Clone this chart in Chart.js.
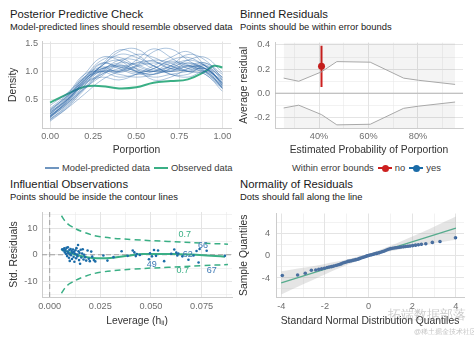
<!DOCTYPE html>
<html>
<head>
<meta charset="utf-8">
<script src="https://cdn.jsdelivr.net/npm/chart.js@4.4.1/dist/chart.umd.min.js"></script>
<style>
  body { margin: 0; width: 474px; height: 338px; position: relative; overflow: hidden; background: #fff;
         font-family: "Liberation Sans", Arial, sans-serif; }
  canvas { position: absolute; }
  .ttl { position: absolute; font-size: 11.3px; line-height: 14px; color: #1a1a1a; white-space: nowrap; }
  .sub { position: absolute; font-size: 9.4px; line-height: 12px; color: #1a1a1a; white-space: nowrap; }
  .legend { position: absolute; display: flex; align-items: center; font-size: 9.4px; line-height: 12px; color: #3a3a3a; white-space: nowrap; }
  .legend-item { display: flex; align-items: center; margin-right: 4px; }
  .legend-line { display: inline-block; width: 14px; height: 2px; margin-right: 3px; position: relative; }
  .legend-dot { position: absolute; left: 4px; top: -2.5px; width: 7px; height: 7px; border-radius: 50%; }
  .wm { position: absolute; white-space: nowrap; }
</style>
</head>
<body>
<div class="ttl" style="left:10px;top:7px">Posterior Predictive Check</div>
<div class="sub" style="left:10px;top:20.7px">Model-predicted lines should resemble observed data</div>
<div class="ttl" style="left:240px;top:7px">Binned Residuals</div>
<div class="sub" style="left:240px;top:20.7px">Points should be within error bounds</div>
<div class="ttl" style="left:10px;top:177px">Influential Observations</div>
<div class="sub" style="left:10px;top:191.3px">Points should be inside the contour lines</div>
<div class="ttl" style="left:240px;top:177px">Normality of Residuals</div>
<div class="sub" style="left:240px;top:191.3px">Dots should fall along the line</div>

<canvas id="ppcChart" width="236" height="128" style="left:0;top:32px"></canvas>
<canvas id="binnedChart" width="237" height="128" style="left:237px;top:32px"></canvas>
<canvas id="influenceChart" width="236" height="126" style="left:0;top:202px"></canvas>
<canvas id="qqChart" width="237" height="126" style="left:237px;top:202px"></canvas>

<div class="legend" id="ppcLegend" style="left:45px;top:162px"></div>
<div class="legend" id="binnedLegend" style="left:292px;top:162px"></div>

<div class="wm" style="left:388px;top:306px;font-size:13px;color:rgba(140,140,140,0.45)">拓端数据部落</div>
<div class="wm" style="left:414px;top:327px;font-size:7px;color:#c4c4c4">@稀土掘金技术社区</div>

<script>
// ---- data ----
const GREEN = '#3aaf85';
const BLUE = '#1b6ca8';
const RED = '#cd201f';

// Posterior predictive check
const ppcX = [0, 0.1, 0.2, 0.3, 0.4, 0.5, 0.6, 0.7, 0.8, 0.9, 1.0];
const ppcSims = [
    [0.22, 0.45, 0.80, 1.05, 1.10, 1.00, 0.95, 1.05, 1.10, 1.00, 0.75],
    [0.30, 0.55, 0.90, 1.20, 1.25, 1.10, 1.00, 1.00, 1.15, 1.05, 0.80],
    [0.15, 0.40, 0.70, 0.95, 1.05, 1.15, 1.10, 0.95, 0.95, 1.10, 0.85],
    [0.25, 0.50, 0.85, 1.10, 1.35, 1.40, 1.20, 1.05, 1.10, 1.05, 0.70],
    [0.35, 0.60, 0.95, 1.00, 0.90, 0.95, 1.05, 1.20, 1.25, 1.10, 0.90],
    [0.20, 0.42, 0.75, 1.10, 1.20, 1.05, 0.85, 0.90, 1.05, 1.15, 0.95],
    [0.12, 0.35, 0.60, 0.85, 1.00, 1.10, 1.20, 1.15, 1.00, 0.95, 0.65],
    [0.28, 0.52, 0.88, 1.15, 1.05, 0.95, 1.00, 1.10, 1.20, 1.10, 0.78],
    [0.18, 0.48, 0.80, 0.95, 1.15, 1.30, 1.25, 1.10, 1.00, 1.05, 0.82],
    [0.40, 0.62, 0.90, 1.05, 1.00, 1.10, 1.35, 1.40, 1.20, 1.00, 0.72],
    [0.24, 0.50, 0.82, 1.00, 0.95, 0.90, 0.95, 1.10, 1.30, 1.20, 0.88],
    [0.30, 0.58, 0.95, 1.25, 1.20, 1.00, 0.90, 0.95, 1.00, 1.05, 0.80],
    [0.16, 0.38, 0.72, 1.00, 1.20, 1.20, 1.05, 1.00, 1.10, 1.15, 0.90],
    [0.22, 0.46, 0.78, 0.90, 0.85, 0.95, 1.10, 1.25, 1.35, 1.10, 0.75],
    [0.33, 0.56, 0.85, 1.10, 1.30, 1.25, 1.10, 0.95, 0.90, 1.00, 0.85],
    [0.20, 0.44, 0.70, 0.92, 1.10, 1.05, 1.00, 1.15, 1.10, 0.95, 0.70],
    [0.26, 0.54, 0.90, 1.08, 1.00, 1.20, 1.40, 1.25, 1.05, 1.05, 0.80],
    [0.14, 0.36, 0.68, 0.98, 1.12, 1.00, 0.95, 1.05, 1.20, 1.25, 0.98],
    [0.28, 0.50, 0.80, 1.12, 1.38, 1.30, 1.10, 1.00, 1.05, 1.10, 0.76],
    [0.20, 0.47, 0.83, 1.02, 0.98, 1.08, 1.15, 1.10, 1.00, 1.00, 0.70],
    [0.25, 0.52, 0.86, 1.05, 1.08, 1.02, 1.00, 1.02, 1.08, 1.06, 0.78],
    [0.18, 0.43, 0.76, 1.03, 1.15, 1.12, 1.02, 1.08, 1.15, 1.02, 0.74],
    [0.32, 0.57, 0.88, 1.00, 1.02, 1.15, 1.18, 1.05, 1.02, 1.12, 0.86],
    [0.21, 0.49, 0.84, 1.14, 1.08, 0.98, 1.05, 1.18, 1.12, 0.98, 0.72]
];
const observedX = [0, 0.1, 0.2, 0.3, 0.4, 0.5, 0.6, 0.7, 0.8, 0.9, 0.95, 1.0];
const observedY = [0.45, 0.60, 0.73, 0.74, 0.70, 0.72, 0.80, 0.83, 0.86, 1.00, 1.10, 1.07];
const ppcXMajor = [0, 0.25, 0.5, 0.75, 1.0];
const ppcXMinor = [0.125, 0.375, 0.625, 0.875];
const ppcYMajor = [0.5, 1.0, 1.5];
const ppcYMinor = [0.25, 0.75, 1.25];

// Binned residuals
const boundX = [0.257, 0.318, 0.41, 0.472, 0.607, 0.742, 0.803, 0.95];
const boundUpper = [0.125, 0.099, 0.177, 0.262, 0.257, 0.125, 0.107, 0.073];
const boundLower = [-0.122, -0.099, -0.177, -0.262, -0.257, -0.125, -0.107, -0.073];
const binX = [0.41];
const binY = [0.224];
const binLow = [0.052];
const binHigh = [0.393];
const binXMajor = [0.4, 0.6, 0.8];
const binXMinor = [0.3, 0.5, 0.7, 0.9];
const binYMajor = [-0.2, 0, 0.2, 0.4];
const binYMinor = [-0.1, 0.1, 0.3];

// Influential observations
const leverage = [0.0062, 0.0068, 0.0072, 0.0075, 0.0078, 0.0081, 0.0083, 0.0086, 0.0088, 0.009,
    0.0092, 0.0095, 0.0097, 0.0099, 0.0101, 0.0103, 0.0105, 0.0108, 0.011, 0.0112,
    0.0115, 0.0118, 0.012, 0.0122, 0.0125, 0.0127, 0.013, 0.0132, 0.0135, 0.0137,
    0.014, 0.0142, 0.0145, 0.0147, 0.015, 0.0153, 0.0156, 0.016, 0.0163, 0.0167,
    0.017, 0.0175, 0.018, 0.0187, 0.0193, 0.0198, 0.0205, 0.021, 0.0218, 0.0225,
    0.0265, 0.0285, 0.0315, 0.0355, 0.0385, 0.041, 0.0418, 0.0425, 0.043, 0.0445,
    0.049, 0.0495, 0.0505, 0.0515, 0.0525, 0.0535, 0.0565, 0.06, 0.0615, 0.0625,
    0.063, 0.0635, 0.0655, 0.0685, 0.071, 0.0725, 0.0735, 0.074, 0.0775, 0.0865];
const stdResid = [2.1, 1.6, 2.4, 0.9, 1.9, 0.3, 2.6, -0.5, 1.2, 2.8,
    0.6, -1.1, 1.8, -2.3, 0.2, 2.2, -0.2, 1.4, -1.6, 0.8,
    2.0, -0.8, 1.1, -2.6, 0.4, 1.7, -1.3, 2.5, 0.1, -0.6,
    3.7, 1.3, -2.0, 0.7, -3.4, 1.9, -1.0, 0.5, 2.1, -1.8,
    0.0, -0.9, -2.2, 1.6, -1.5, -2.4, 1.2, -0.7, -2.0, -2.5,
    -0.3, -2.2, -0.9, 1.3, -0.4, 1.6, 0.9, -0.5, 0.3, -0.1,
    -1.7, 0.6, -0.6, 1.8, -0.4, 1.6, -2.4, 0.4, 2.0, 0.8,
    -0.3, 0.5, -0.6, -1.9, -0.3, 1.4, -2.9, 2.2, 1.5, -0.4];
const smoothX = [0.0058, 0.01, 0.015, 0.021, 0.03, 0.038, 0.046, 0.061, 0.074, 0.0865];
const smoothY = [2.0, 0.8, -0.4, -1.2, -1.2, -0.4, 0.25, 0.25, -0.1, -0.7];
const contourX = [0.0058, 0.0075, 0.01, 0.0165, 0.025, 0.0415, 0.0585, 0.075, 0.088];
const contourUpper = [14.7, 12.8, 11.0, 8.6, 6.8, 5.7, 5.0, 4.4, 4.0];
const contourLower = [-14.5, -12.6, -10.8, -8.4, -6.6, -5.4, -4.7, -4.1, -3.7];
const infLabelX = [0.0757, 0.0682, 0.0504, 0.0800, 0.0667, 0.0657];
const infLabelY = [3.5, 0.0, -3.6, -5.8, 7.5, -6.1];
const infLabels = ['66', '62', '49', '67', '0.7', '0.7'];
const infXMajor = [0, 0.025, 0.05, 0.075];
const infXMinor = [0.0125, 0.0375, 0.0625, 0.0875];
const infYMajor = [-10, 0, 10];
const infYMinor = [-15, -5, 5, 15];

// Normality of residuals
const qqTheo = [-3.95, -3.25, -2.9, -2.62, -2.42, -2.28, -2.15, -2.02, -1.9, -1.8,
    -1.7, -1.6, -1.5, -1.42, -1.34, -1.26, -1.18, -1.1, -1.02, -0.95,
    -0.88, -0.8, -0.72, -0.65, -0.58, -0.5, -0.43, -0.36, -0.28, -0.21,
    -0.14, -0.07, 0, 0.07, 0.14, 0.21, 0.28, 0.36, 0.43, 0.5,
    0.58, 0.65, 0.72, 0.8, 0.88, 0.95, 1.02, 1.1, 1.18, 1.26,
    1.34, 1.42, 1.5, 1.6, 1.7, 1.8, 1.9, 2.02, 2.15, 2.28,
    2.42, 2.62, 2.92, 3.27, 3.98];
const qqSample = [-3.55, -3.45, -3.15, -2.6, -2.55, -2.45, -2.35, -2.25, -2.1, -2.0,
    -1.95, -1.85, -1.75, -1.65, -1.55, -1.45, -1.3, -1.2, -1.1, -1.0,
    -0.95, -0.9, -0.82, -0.75, -0.68, -0.6, -0.5, -0.4, -0.3, -0.2,
    -0.1, 0.0, 0.08, 0.15, 0.22, 0.3, 0.38, 0.45, 0.52, 0.6,
    0.7, 0.8, 0.9, 1.02, 1.15, 1.25, 1.32, 1.38, 1.43, 1.48,
    1.52, 1.56, 1.6, 1.65, 1.7, 1.75, 1.8, 1.87, 1.95, 2.02,
    2.1, 2.2, 2.45, 2.6, 3.3];
const qqLineX = [-4, 4];
const qqLineY = [-4.88, 5.04];
const bandX = [-4, -3, -2, -1, 0, 1, 2, 3, 4];
const bandLow = [-6.98, -5.14, -3.35, -1.66, -0.22, 0.82, 1.61, 2.3, 2.94];
const bandHigh = [-2.78, -2.14, -1.45, -0.66, 0.38, 1.82, 3.51, 5.3, 7.14];
const qqXMajor = [-4, -2, 0, 2, 4];
const qqXMinor = [-3, -1, 1, 3];
const qqYMajor = [-4, 0, 4];
const qqYMinor = [-6, -2, 2, 6];

// ---- helpers ----
Chart.defaults.font.family = '"Liberation Sans", Arial, sans-serif';
Chart.defaults.animation = false;

const zip = (xs, ys) => xs.map((x, i) => ({ x: x, y: ys[i] }));

// one ggplot-like axis: fixed size, major + minor grid, labels on majors only
function makeAxis(pos, min, max, majors, minors, fmt, title, size, titlePad, labelPad) {
    return {
        type: 'linear',
        position: pos,
        min: min,
        max: max,
        afterBuildTicks: axis => {
            axis.ticks = majors.concat(minors).sort((a, b) => a - b).map(v => ({ value: v }));
        },
        afterFit: scale => {
            if (pos === 'left') scale.width = size; else scale.height = size;
        },
        grid: {
            color: '#e4e4e4',
            lineWidth: ctx => (ctx.tick && majors.includes(ctx.tick.value)) ? 1 : 0.5,
            drawTicks: false
        },
        border: { display: true, color: '#cccccc', width: 1 },
        ticks: {
            autoSkip: false,
            maxRotation: 0,
            padding: labelPad,
            color: '#6e6e6e',
            font: { size: 9.2 },
            callback: v => majors.includes(v) ? fmt(v) : ''
        },
        title: {
            display: true,
            text: title,
            color: '#333',
            font: { size: 10.3 },
            padding: { top: titlePad, bottom: titlePad }
        }
    };
}

// reference lines and text placed in data space
const annotatePlugin = {
    id: 'annotate',
    beforeDatasetsDraw(chart, args, opts) {
        const { ctx, chartArea: a, scales: { x, y } } = chart;
        ctx.save();
        (opts.hlines || []).forEach(h => {
            ctx.strokeStyle = h.color; ctx.lineWidth = h.width; ctx.setLineDash(h.dash || []);
            const py = y.getPixelForValue(h.value);
            ctx.beginPath(); ctx.moveTo(a.left, py); ctx.lineTo(a.right, py); ctx.stroke();
        });
        (opts.vlines || []).forEach(v => {
            ctx.strokeStyle = v.color; ctx.lineWidth = v.width; ctx.setLineDash(v.dash || []);
            const px = x.getPixelForValue(v.value);
            ctx.beginPath(); ctx.moveTo(px, a.top); ctx.lineTo(px, a.bottom); ctx.stroke();
        });
        ctx.restore();
    },
    afterDatasetsDraw(chart, args, opts) {
        const { ctx, scales: { x, y } } = chart;
        ctx.save();
        ctx.font = '9px "Liberation Sans", Arial, sans-serif';
        ctx.textAlign = 'center';
        ctx.textBaseline = 'middle';
        (opts.texts || []).forEach(t => {
            ctx.fillStyle = t.color;
            ctx.fillText(t.text, x.getPixelForValue(t.x), y.getPixelForValue(t.y));
        });
        ctx.restore();
    }
};

function baseOptions(padding, scales, annotate) {
    return {
        responsive: false,
        animation: false,
        layout: { padding: padding },
        scales: scales,
        plugins: { legend: { display: false }, tooltip: { enabled: false }, annotate: annotate || {} }
    };
}

// Function to create custom legend
function createCustomLegend(legendId, title, labels, colors, withDot) {
    const legendContainer = document.getElementById(legendId);
    legendContainer.innerHTML = (title ? `<span style="margin-right:4px">${title}</span>` : '') +
        labels.map((label, index) => `
        <div class="legend-item">
            <span class="legend-line" style="background-color:${colors[index]};">
                ${withDot ? `<span class="legend-dot" style="background-color:${colors[index]};"></span>` : ''}
            </span>${label}
        </div>`).join('');
}

// ---- Posterior Predictive Check ----
const ppcDatasets = ppcSims.map(sim => ({
    data: zip(ppcX, sim),
    borderColor: 'rgba(40,100,165,0.38)',
    borderWidth: 1,
    pointRadius: 0,
    tension: 0.4
}));
ppcDatasets.push({
    data: zip(observedX, observedY),
    borderColor: GREEN,
    borderWidth: 2,
    pointRadius: 0,
    tension: 0.4
});
new Chart(document.getElementById('ppcChart'), {
    type: 'line',
    data: { datasets: ppcDatasets },
    options: baseOptions({ top: 5, right: 5 }, {
        x: makeAxis('bottom', -0.047, 1.05, ppcXMajor, ppcXMinor, v => v.toFixed(2), 'Porportion', 32, 4, 2.5),
        y: makeAxis('left', 0, 1.53, ppcYMajor, ppcYMinor, v => v.toFixed(1), 'Density', 42, 7, 4)
    })
});

// ---- Binned Residuals ----
new Chart(document.getElementById('binnedChart'), {
    type: 'line',
    data: {
        datasets: [
            { data: zip(boundX, boundUpper), borderColor: '#a8a8a8', borderWidth: 1, pointRadius: 0,
              fill: 'end', backgroundColor: 'rgba(0,0,0,0.045)' },
            { data: zip(boundX, boundLower), borderColor: '#a8a8a8', borderWidth: 1, pointRadius: 0,
              fill: 'start', backgroundColor: 'rgba(0,0,0,0.045)' },
            { data: [{ x: binX[0], y: binLow[0] }, { x: binX[0], y: binHigh[0] }], borderColor: RED,
              borderWidth: 2, pointRadius: 0 },
            { data: zip(binX, binY), borderColor: RED, backgroundColor: RED, showLine: false,
              pointRadius: 3.5, pointBorderWidth: 0 }
        ]
    },
    options: baseOptions({ top: 5, right: 11 }, {
        x: makeAxis('bottom', 0.222, 0.982, binXMajor, binXMinor, v => Math.round(v * 100) + '%',
            'Estimated Probability of Porportion', 32, 3.8, 2.5),
        y: makeAxis('left', -0.288, 0.42, binYMajor, binYMinor, v => v.toFixed(1), 'Average residual', 38, 1, 5)
    }, { hlines: [{ value: 0, color: '#b4b4b4', width: 1 }] }),
    plugins: [annotatePlugin]
});

// ---- Influential Observations ----
new Chart(document.getElementById('influenceChart'), {
    type: 'scatter',
    data: {
        datasets: [
            { data: zip(contourX, contourUpper), showLine: true, borderColor: GREEN, borderWidth: 1.5,
              borderDash: [6, 4], pointRadius: 0, tension: 0.4 },
            { data: zip(contourX, contourLower), showLine: true, borderColor: GREEN, borderWidth: 1.5,
              borderDash: [6, 4], pointRadius: 0, tension: 0.4 },
            { data: zip(leverage, stdResid), backgroundColor: BLUE, pointRadius: 1.3, pointBorderWidth: 0 },
            { data: zip(smoothX, smoothY), showLine: true, borderColor: GREEN, borderWidth: 2,
              pointRadius: 0, tension: 0.4 }
        ]
    },
    options: baseOptions({ top: 6, right: 4 }, {
        x: makeAxis('bottom', -0.0038, 0.090, infXMajor, infXMinor, v => v.toFixed(3), 'Leverage (hᵢᵢ)', 31, 1, 3.5),
        y: makeAxis('left', -15.9, 16.1, infYMajor, infYMinor, v => String(v), 'Std. Residuals', 42, 7.5, 4.5)
    }, {
        hlines: [{ value: 0, color: '#a0a0a0', width: 1, dash: [5, 3] }],
        vlines: [{ value: 0, color: '#a0a0a0', width: 1, dash: [5, 3] }],
        texts: infLabels.map((t, i) => ({ text: t, x: infLabelX[i], y: infLabelY[i],
            color: t === '0.7' ? GREEN : '#3c78b4' }))
    }),
    plugins: [annotatePlugin]
});

// ---- Normality of Residuals ----
new Chart(document.getElementById('qqChart'), {
    type: 'scatter',
    data: {
        datasets: [
            { data: zip(bandX, bandLow), showLine: true, borderWidth: 0, pointRadius: 0, tension: 0.3 },
            { data: zip(bandX, bandHigh), showLine: true, borderWidth: 0, pointRadius: 0, tension: 0.3,
              fill: '-1', backgroundColor: 'rgba(160,160,160,0.28)' },
            { data: zip(qqTheo, qqSample), backgroundColor: '#2b5d9e', pointRadius: 1.8, pointBorderWidth: 0 },
            { data: zip(qqLineX, qqLineY), showLine: true, borderColor: GREEN, borderWidth: 1.3, pointRadius: 0 }
        ]
    },
    options: baseOptions({ top: 5, right: 10 }, {
        x: makeAxis('bottom', -4.24, 4.37, qqXMajor, qqXMinor, v => String(v),
            'Standard Normal Distribution Quantiles', 31, 0.5, 3.5),
        y: makeAxis('left', -7.45, 7.68, qqYMajor, qqYMinor, v => String(v), 'Sample Quantiles', 39, 1, 6)
    })
});

// legends
createCustomLegend('ppcLegend', '', ['Model-predicted data', 'Observed data'], ['#6f95bf', GREEN], false);
createCustomLegend('binnedLegend', 'Within error bounds', ['no', 'yes'], [RED, BLUE], true);
</script>
</body>
</html>
